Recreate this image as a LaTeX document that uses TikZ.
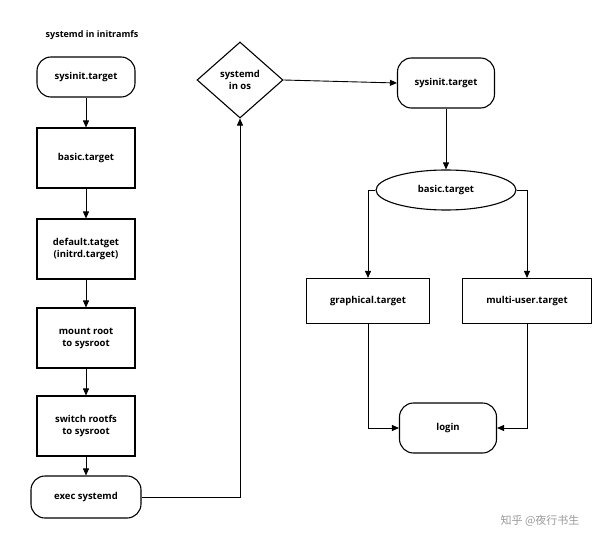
\documentclass[tikz,border=0pt]{standalone}
\usepackage{fontspec}
\setmainfont{Open Sans}
\newfontfamily\cjkf{Noto Sans CJK SC}
\usetikzlibrary{shapes.geometric,arrows.meta}
\begin{document}
\begin{tikzpicture}[x=1pt,y=-1pt,
  box/.style={draw,line width=1.1pt,minimum width=98pt,minimum height=60pt,align=center,font=\bfseries\fontsize{9.5}{12}\selectfont},
  rbox/.style={box,rounded corners=14pt,minimum height=40pt},
  ar/.style={-{Triangle[length=7pt,width=6pt]},line width=0.9pt}]
\useasboundingbox (0,0) rectangle (615,548);
\node[font=\bfseries\fontsize{9}{11}\selectfont] (t) at (92,35) {systemd in initramfs};
\node[rbox] (s1) at (86,77) {sysinit.target};
\node[box] (b1) at (86,158) {basic.target};
\node[box] (d1) at (86,249) {default.tatget\\(initrd.target)};
\node[box] (m1) at (86,338) {mount root\\to sysroot};
\node[box] (w1) at (86,426) {switch rootfs\\to sysroot};
\node[rbox,minimum width=110pt,minimum height=42pt] (e1) at (86,497) {exec systemd};
\node[draw,line width=1.1pt,diamond,aspect=1.1,minimum width=86pt,minimum height=76pt,inner sep=0pt,align=center,font=\bfseries\fontsize{9.5}{12}\selectfont] (dm) at (240,80) {systemd\\in os};
\node[rbox,minimum width=97pt,minimum height=50pt] (s2) at (446,83) {sysinit.target};
\node[draw,line width=1.1pt,ellipse,minimum width=140pt,minimum height=40pt,font=\bfseries\fontsize{9.5}{12}\selectfont] (b2) at (446,190) {basic.target};
\node[box,minimum width=123pt,minimum height=45pt] (g) at (368,301) {graphical.target};
\node[box,minimum width=129pt,minimum height=45pt] (mu) at (527,301) {multi-user.target};
\node[rbox,minimum width=97pt,minimum height=50pt] (l) at (448,428) {login};
\node[text=gray!80,font=\cjkf\fontsize{11}{13}\selectfont] (wm) at (540,521) {知乎 @夜行书生};
\draw[ar] (s1) -- (b1);
\draw[ar] (b1) -- (d1);
\draw[ar] (d1) -- (m1);
\draw[ar] (m1) -- (w1);
\draw[ar] (w1) -- (e1);
\draw[ar] (e1.east) -| (dm.south);
\draw[ar] (dm.east) -- (s2.west);
\draw[ar] (s2) -- (b2);
\draw[ar] (b2.west) -| (g.north);
\draw[ar] (b2.east) -| (mu.north);
\draw[ar] (g.south) |- (l.west);
\draw[ar] (mu.south) |- (l.east);
\end{tikzpicture}
\end{document}
